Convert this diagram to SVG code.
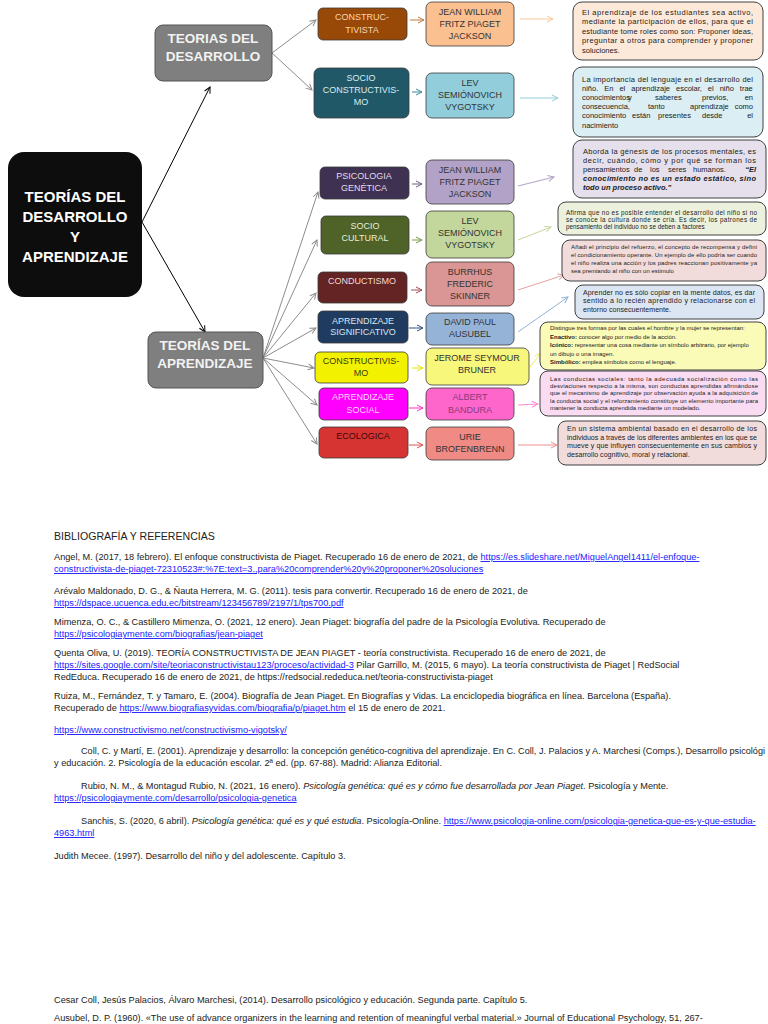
<svg xmlns="http://www.w3.org/2000/svg" width="768" height="1024" viewBox="0 0 768 1024">
<style>
text{font-family:"Liberation Sans",Arial,sans-serif}
.t15{font-size:15px;font-weight:bold;fill:#fff;text-anchor:middle}
.t13{font-size:13.5px;font-weight:bold;fill:#f2f2f2;text-anchor:middle}
.n9{font-size:9px;text-anchor:middle}
.nd{stroke:#3a3a3a;stroke-width:0.8}
.bx{stroke:#404040;stroke-width:1}
.r75{font-size:7.5px;fill:#222}
.r7{font-size:7.1px;fill:#222}
.r65{font-size:6.3px;fill:#222}
.r6{font-size:6px;fill:#222}
.bi{font-weight:bold;font-style:italic}
.b{font-weight:bold}
.bib{font-size:9.2px;fill:#222}
.lk{fill:#1a1aff;text-decoration:underline}
.ln{fill:none;stroke-width:1}
.e{text-anchor:end}
</style>
<defs>
<marker id="mBk" markerUnits="userSpaceOnUse" markerWidth="8" markerHeight="8" refX="7" refY="4" orient="auto"><path d="M1,1 L7,4 L1,7" fill="none" stroke="#000" stroke-width="1"/></marker>
<marker id="mGy" markerUnits="userSpaceOnUse" markerWidth="8" markerHeight="8" refX="7" refY="4" orient="auto"><path d="M1,1 L7,4 L1,7" fill="none" stroke="#8c8c8c" stroke-width="1"/></marker>
<marker id="m1" markerUnits="userSpaceOnUse" markerWidth="8" markerHeight="8" refX="7" refY="4" orient="auto"><path d="M1,1 L7,4 L1,7" fill="none" stroke="#c07a40" stroke-width="1"/></marker>
<marker id="m2" markerUnits="userSpaceOnUse" markerWidth="8" markerHeight="8" refX="7" refY="4" orient="auto"><path d="M1,1 L7,4 L1,7" fill="none" stroke="#3e8a9a" stroke-width="1"/></marker>
<marker id="m3" markerUnits="userSpaceOnUse" markerWidth="8" markerHeight="8" refX="7" refY="4" orient="auto"><path d="M1,1 L7,4 L1,7" fill="none" stroke="#6e6088" stroke-width="1"/></marker>
<marker id="m4" markerUnits="userSpaceOnUse" markerWidth="8" markerHeight="8" refX="7" refY="4" orient="auto"><path d="M1,1 L7,4 L1,7" fill="none" stroke="#7d9a48" stroke-width="1"/></marker>
<marker id="m5" markerUnits="userSpaceOnUse" markerWidth="8" markerHeight="8" refX="7" refY="4" orient="auto"><path d="M1,1 L7,4 L1,7" fill="none" stroke="#a05050" stroke-width="1"/></marker>
<marker id="m6" markerUnits="userSpaceOnUse" markerWidth="8" markerHeight="8" refX="7" refY="4" orient="auto"><path d="M1,1 L7,4 L1,7" fill="none" stroke="#2e5080" stroke-width="1"/></marker>
<marker id="m7" markerUnits="userSpaceOnUse" markerWidth="8" markerHeight="8" refX="7" refY="4" orient="auto"><path d="M1,1 L7,4 L1,7" fill="none" stroke="#e6e600" stroke-width="1"/></marker>
<marker id="m8" markerUnits="userSpaceOnUse" markerWidth="8" markerHeight="8" refX="7" refY="4" orient="auto"><path d="M1,1 L7,4 L1,7" fill="none" stroke="#ff33cc" stroke-width="1"/></marker>
<marker id="m9" markerUnits="userSpaceOnUse" markerWidth="8" markerHeight="8" refX="7" refY="4" orient="auto"><path d="M1,1 L7,4 L1,7" fill="none" stroke="#e05050" stroke-width="1"/></marker>
<marker id="p1" markerUnits="userSpaceOnUse" markerWidth="8" markerHeight="8" refX="7" refY="4" orient="auto"><path d="M1,1 L7,4 L1,7" fill="none" stroke="#f9c89a" stroke-width="1"/></marker>
<marker id="p2" markerUnits="userSpaceOnUse" markerWidth="8" markerHeight="8" refX="7" refY="4" orient="auto"><path d="M1,1 L7,4 L1,7" fill="none" stroke="#92cddc" stroke-width="1"/></marker>
<marker id="p3" markerUnits="userSpaceOnUse" markerWidth="8" markerHeight="8" refX="7" refY="4" orient="auto"><path d="M1,1 L7,4 L1,7" fill="none" stroke="#b2a2c7" stroke-width="1"/></marker>
<marker id="p4" markerUnits="userSpaceOnUse" markerWidth="8" markerHeight="8" refX="7" refY="4" orient="auto"><path d="M1,1 L7,4 L1,7" fill="none" stroke="#c3d69b" stroke-width="1"/></marker>
<marker id="p5" markerUnits="userSpaceOnUse" markerWidth="8" markerHeight="8" refX="7" refY="4" orient="auto"><path d="M1,1 L7,4 L1,7" fill="none" stroke="#e6a0a0" stroke-width="1"/></marker>
<marker id="p6" markerUnits="userSpaceOnUse" markerWidth="8" markerHeight="8" refX="7" refY="4" orient="auto"><path d="M1,1 L7,4 L1,7" fill="none" stroke="#95b3d7" stroke-width="1"/></marker>
<marker id="p7" markerUnits="userSpaceOnUse" markerWidth="8" markerHeight="8" refX="7" refY="4" orient="auto"><path d="M1,1 L7,4 L1,7" fill="none" stroke="#eeee50" stroke-width="1"/></marker>
<marker id="p8" markerUnits="userSpaceOnUse" markerWidth="8" markerHeight="8" refX="7" refY="4" orient="auto"><path d="M1,1 L7,4 L1,7" fill="none" stroke="#ff88cc" stroke-width="1"/></marker>
<marker id="p9" markerUnits="userSpaceOnUse" markerWidth="8" markerHeight="8" refX="7" refY="4" orient="auto"><path d="M1,1 L7,4 L1,7" fill="none" stroke="#f09090" stroke-width="1"/></marker>
</defs>
<rect width="768" height="1024" fill="#fff"/>

<g id="connectors">
<line class="ln" stroke="#000" x1="142" y1="222" x2="210" y2="87" marker-end="url(#mBk)"/>
<line class="ln" stroke="#000" x1="142" y1="222" x2="205" y2="332" marker-end="url(#mBk)"/>
<line class="ln" stroke="#8c8c8c" x1="272" y1="53" x2="316" y2="20" marker-end="url(#mGy)"/>
<line class="ln" stroke="#8c8c8c" x1="272" y1="53" x2="312" y2="90" marker-end="url(#mGy)"/>
<line class="ln" stroke="#8c8c8c" x1="263" y1="358" x2="318" y2="192" marker-end="url(#mGy)"/>
<line class="ln" stroke="#8c8c8c" x1="263" y1="358" x2="317" y2="240" marker-end="url(#mGy)"/>
<line class="ln" stroke="#8c8c8c" x1="263" y1="358" x2="316" y2="293" marker-end="url(#mGy)"/>
<line class="ln" stroke="#8c8c8c" x1="263" y1="358" x2="316" y2="328" marker-end="url(#mGy)"/>
<line class="ln" stroke="#8c8c8c" x1="263" y1="358" x2="314" y2="368" marker-end="url(#mGy)"/>
<line class="ln" stroke="#8c8c8c" x1="263" y1="358" x2="317" y2="405" marker-end="url(#mGy)"/>
<line class="ln" stroke="#8c8c8c" x1="263" y1="358" x2="317" y2="444" marker-end="url(#mGy)"/>
<line class="ln" stroke="#c07a40" x1="410" y1="20" x2="424" y2="20" marker-end="url(#m1)"/>
<line class="ln" stroke="#3e8a9a" x1="412" y1="92" x2="422" y2="92" marker-end="url(#m2)"/>
<line class="ln" stroke="#6e6088" x1="412" y1="184" x2="422" y2="184" marker-end="url(#m3)"/>
<line class="ln" stroke="#7d9a48" x1="412" y1="240" x2="422" y2="240" marker-end="url(#m4)"/>
<line class="ln" stroke="#a05050" x1="411" y1="290" x2="422" y2="290" marker-end="url(#m5)"/>
<line class="ln" stroke="#2e5080" x1="409" y1="328" x2="423" y2="328" marker-end="url(#m6)"/>
<line class="ln" stroke="#e6e600" x1="412" y1="368" x2="423" y2="368" marker-end="url(#m7)"/>
<line class="ln" stroke="#ff33cc" x1="409" y1="408" x2="423" y2="408" marker-end="url(#m8)"/>
<line class="ln" stroke="#e05050" x1="409" y1="445" x2="423" y2="445" marker-end="url(#m9)"/>
<line class="ln" stroke="#f9c89a" x1="520" y1="19" x2="553" y2="19" marker-end="url(#p1)"/>
<line class="ln" stroke="#92cddc" x1="520" y1="98" x2="558" y2="98" marker-end="url(#p2)"/>
<line class="ln" stroke="#b2a2c7" x1="518" y1="186" x2="554" y2="177" marker-end="url(#p3)"/>
<line class="ln" stroke="#c3d69b" x1="518" y1="240" x2="551" y2="227" marker-end="url(#p4)"/>
<line class="ln" stroke="#e6a0a0" x1="518" y1="290" x2="564" y2="275" marker-end="url(#p5)"/>
<line class="ln" stroke="#95b3d7" x1="518" y1="332" x2="568" y2="297" marker-end="url(#p6)"/>
<line class="ln" stroke="#eeee50" x1="530" y1="367" x2="541" y2="353" marker-end="url(#p7)"/>
<line class="ln" stroke="#ff88cc" x1="518" y1="405" x2="538" y2="404" marker-end="url(#p8)"/>
<line class="ln" stroke="#f09090" x1="518" y1="445" x2="557" y2="445" marker-end="url(#p9)"/>
</g>

<g id="n-main"><rect x="8" y="152" width="134" height="145" rx="16" fill="#0d0d0d"/>
<text class="t15" x="75" y="202">TEORÍAS DEL</text><text class="t15" x="75" y="222">DESARROLLO</text><text class="t15" x="75" y="242">Y</text><text class="t15" x="75" y="262">APRENDIZAJE</text></g>
<g id="n-desarrollo"><rect x="155" y="25" width="117" height="56" rx="8" fill="#7f7f7f" stroke="#555" stroke-width="1"/>
<text class="t13" x="213" y="43">TEORIAS DEL</text><text class="t13" x="213" y="61">DESARROLLO</text></g>
<g id="n-aprendizaje"><rect x="148" y="332" width="115" height="56" rx="8" fill="#7f7f7f" stroke="#555" stroke-width="1"/>
<text class="t13" x="205" y="350">TEORÍAS DEL</text><text class="t13" x="205" y="368">APRENDIZAJE</text></g>

<g id="n-constructivista"><rect class="nd" x="318" y="8" width="89" height="32" rx="5" fill="#984807"/>
<text class="n9" fill="#f8d6b4" x="362" y="20">CONSTRUC-</text><text class="n9" fill="#f8d6b4" x="362" y="33">TIVISTA</text></g>
<g id="n-piaget1"><rect class="nd" x="426" y="2" width="88" height="44" rx="6" fill="#fac090"/>
<text class="n9" fill="#333" x="470" y="15">JEAN WILLIAM</text><text class="n9" fill="#333" x="470" y="27">FRITZ PIAGET</text><text class="n9" fill="#333" x="470" y="39">JACKSON</text></g>
<g id="n-socioconst"><rect class="nd" x="314" y="68" width="95" height="50" rx="6" fill="#215867"/>
<text class="n9" fill="#d6ecf2" x="361" y="81">SOCIO</text><text class="n9" fill="#d6ecf2" x="361" y="93">CONSTRUCTIVIS-</text><text class="n9" fill="#d6ecf2" x="361" y="105">MO</text></g>
<g id="n-vygotsky1"><rect class="nd" x="426" y="73" width="88" height="45" rx="6" fill="#92cddc"/>
<text class="n9" fill="#333" x="470" y="86">LEV</text><text class="n9" fill="#333" x="470" y="98">SEMIÓNOVICH</text><text class="n9" fill="#333" x="470" y="110">VYGOTSKY</text></g>
<g id="n-psicogen"><rect class="nd" x="320" y="167" width="89" height="32" rx="5" fill="#3f3151"/>
<text class="n9" fill="#e2dbea" x="364" y="179">PSICOLOGIA</text><text class="n9" fill="#e2dbea" x="364" y="191">GENÉTICA</text></g>
<g id="n-piaget2"><rect class="nd" x="426" y="160" width="88" height="44" rx="6" fill="#b2a2c7"/>
<text class="n9" fill="#333" x="470" y="173">JEAN WILLIAM</text><text class="n9" fill="#333" x="470" y="185">FRITZ PIAGET</text><text class="n9" fill="#333" x="470" y="197">JACKSON</text></g>
<g id="n-sociocult"><rect class="nd" x="321" y="216" width="88" height="38" rx="5" fill="#4f6228"/>
<text class="n9" fill="#e6eed6" x="365" y="229">SOCIO</text><text class="n9" fill="#e6eed6" x="365" y="241">CULTURAL</text></g>
<g id="n-vygotsky2"><rect class="nd" x="426" y="211" width="88" height="47" rx="6" fill="#c3d69b"/>
<text class="n9" fill="#333" x="470" y="224">LEV</text><text class="n9" fill="#333" x="470" y="236">SEMIÓNOVICH</text><text class="n9" fill="#333" x="470" y="248">VYGOTSKY</text></g>
<g id="n-conductismo"><rect class="nd" x="318" y="272" width="89" height="31" rx="5" fill="#632423"/>
<text class="n9" fill="#f2dcdb" x="362" y="284">CONDUCTISMO</text></g>
<g id="n-skinner"><rect class="nd" x="426" y="262" width="88" height="44" rx="6" fill="#d99694"/>
<text class="n9" fill="#333" x="470" y="275">BURRHUS</text><text class="n9" fill="#333" x="470" y="287">FREDERIC</text><text class="n9" fill="#333" x="470" y="299">SKINNER</text></g>
<g id="n-aprsig"><rect class="nd" x="318" y="311" width="90" height="32" rx="5" fill="#1f3b5f"/>
<text class="n9" fill="#dbe5f1" x="363" y="324">APRENDIZAJE</text><text class="n9" fill="#dbe5f1" x="363" y="335">SIGNIFICATIVO</text></g>
<g id="n-ausubel"><rect class="nd" x="426" y="313" width="88" height="32" rx="6" fill="#95b3d7"/>
<text class="n9" fill="#333" x="470" y="325">DAVID PAUL</text><text class="n9" fill="#333" x="470" y="337">AUSUBEL</text></g>
<g id="n-constructivismo"><rect class="nd" x="315" y="352" width="93" height="31" rx="5" fill="#f2f200"/>
<text class="n9" fill="#3a3a10" x="361" y="364">CONSTRUCTIVIS-</text><text class="n9" fill="#3a3a10" x="361" y="376">MO</text></g>
<g id="n-bruner"><rect class="nd" x="426" y="348" width="103" height="37" rx="6" fill="#f7f77c"/>
<text class="n9" fill="#333" x="477" y="361">JEROME SEYMOUR</text><text class="n9" fill="#333" x="477" y="373">BRUNER</text></g>
<g id="n-aprsocial"><rect class="nd" x="319" y="388" width="89" height="32" rx="5" fill="#ff00ff"/>
<text class="n9" fill="#ffd8ff" x="363" y="400">APRENDIZAJE</text><text class="n9" fill="#ffd8ff" x="363" y="413">SOCIAL</text></g>
<g id="n-bandura"><rect class="nd" x="426" y="388" width="88" height="32" rx="6" fill="#ff66cc"/>
<text class="n9" fill="#8a3a7a" x="470" y="400">ALBERT</text><text class="n9" fill="#8a3a7a" x="470" y="413">BANDURA</text></g>
<g id="n-ecologica"><rect class="nd" x="319" y="427" width="89" height="31" rx="5" fill="#d63333"/>
<text class="n9" fill="#3a0a0a" x="363" y="439">ECOLOGICA</text></g>
<g id="n-bronfen"><rect class="nd" x="426" y="427" width="88" height="33" rx="6" fill="#f08a84"/>
<text class="n9" fill="#333" x="470" y="440">URIE</text><text class="n9" fill="#333" x="470" y="452">BROFENBRENN</text></g>

<g id="d-constructivista"><rect class="bx" x="573" y="2" width="190" height="58" rx="9" fill="#fde9d9"/>
<text class="r75" x="582" y="14.5" textLength="171" lengthAdjust="spacing">El aprendizaje de los estudiantes sea activo,</text>
<text class="r75" x="582" y="24" textLength="171" lengthAdjust="spacing">mediante la participación de ellos, para que el</text>
<text class="r75" x="582" y="33.5" textLength="171" lengthAdjust="spacing">estudiante tome roles como son: Proponer ideas,</text>
<text class="r75" x="582" y="43" textLength="171" lengthAdjust="spacing">preguntar a otros para comprender y proponer</text>
<text class="r75" x="582" y="52.5">soluciones.</text></g>
<g id="d-socioconst"><rect class="bx" x="573" y="67" width="190" height="70" rx="9" fill="#dbeef3"/>
<text class="r75" x="582" y="81.5" textLength="171" lengthAdjust="spacing">La importancia del lenguaje en el desarrollo del</text>
<text class="r75" x="582" y="90.7" word-spacing="3.9">niño. En el aprendizaje escolar, el niño trae</text>
<text class="r75" y="99.9"><tspan x="582">conocimientos</tspan><tspan x="628">y</tspan><tspan x="655">saberes</tspan><tspan x="702">previos,</tspan></text><text class="r75 e" x="753" y="99.9">en</text>
<text class="r75" y="109.1"><tspan x="582">consecuencia,</tspan><tspan x="648">tanto</tspan><tspan x="690">aprendizaje</tspan></text><text class="r75 e" x="753" y="109.1">como</text>
<text class="r75" y="118.3"><tspan x="582">conocimiento</tspan><tspan x="632">están</tspan><tspan x="658">presentes</tspan><tspan x="702">desde</tspan></text><text class="r75 e" x="753" y="118.3">el</text>
<text class="r75" x="582" y="127.5">nacimiento</text></g>
<g id="d-psicogen"><rect class="bx" x="573" y="140" width="193" height="58" rx="9" fill="#e5e0ec"/>
<text class="r75" x="583" y="153.5" textLength="173" lengthAdjust="spacing">Aborda la génesis de los procesos mentales, es</text>
<text class="r75" x="583" y="162.5" textLength="173" lengthAdjust="spacing">decir, cuándo, cómo y por qué se forman los</text>
<text class="r75" y="172"><tspan x="583">pensamientos</tspan><tspan x="634">de</tspan><tspan x="650">los</tspan><tspan x="668">seres</tspan><tspan x="693">humanos.</tspan></text>
<text class="r75 bi e" x="756" y="172">“El</text>
<text class="r75 bi" x="583" y="181" textLength="173" lengthAdjust="spacing">conocimiento no es un estado estático, sino</text>
<text class="r75 bi" x="583" y="190">todo un proceso activo.”</text></g>
<g id="d-sociocult"><rect class="bx" x="558" y="202" width="208" height="33" rx="8" fill="#ebf1dd"/>
<text class="r65" x="566" y="214.5" textLength="191" lengthAdjust="spacing">Afirma que no es posible entender el desarrollo del niño si no</text>
<text class="r65" x="566" y="221.5" textLength="191" lengthAdjust="spacing">se conoce la cultura donde se cría. Es decir, los patrones de</text>
<text class="r65" x="566" y="228.5">pensamiento del individuo no se deben a factores</text></g>
<g id="d-conductismo"><rect class="bx" x="562" y="240" width="204" height="41" rx="8" fill="#f2dcdb"/>
<text class="r6" x="571" y="248.5" textLength="186" lengthAdjust="spacing">Añadi el principio del refuerzo, el concepto de recompensa y defini</text>
<text class="r6" x="571" y="256.5" textLength="186" lengthAdjust="spacing">el condicionamiento operante. Un ejemplo de ello podría ser cuando</text>
<text class="r6" x="571" y="264.5" textLength="186" lengthAdjust="spacing">el niño realiza una acción y los padres reaccionan positivamente ya</text>
<text class="r6" x="571" y="272.5">sea premiando al niño con un estimulo</text></g>
<g id="d-aprsig"><rect class="bx" x="575" y="285" width="189" height="34" rx="8" fill="#dce6f2"/>
<text class="r7" x="583" y="294.5" textLength="172" lengthAdjust="spacing">Aprender no es sólo copiar en la mente datos, es dar</text>
<text class="r7" x="583" y="303" textLength="172" lengthAdjust="spacing">sentido a lo recién aprendido y relacionarse con el</text>
<text class="r7" x="583" y="311.5">entorno consecuentemente.</text></g>
<g id="d-bruner"><rect class="bx" x="540" y="322" width="226" height="48" rx="8" fill="#fbfbb8"/>
<text class="r6" x="550" y="330">Distingue tres formas por las cuales el hombre y la mujer se representan:</text>
<text class="r6" x="550" y="338.5"><tspan class="b">Enactivo:</tspan> conocer algo por medio de la acción.</text>
<text class="r6" x="550" y="347"><tspan class="b">Icónico:</tspan> representar una cosa mediante un símbolo arbitrario, por ejemplo</text>
<text class="r6" x="550" y="355.5">un dibujo o una imagen.</text>
<text class="r6" x="550" y="364"><tspan class="b">Simbólico:</tspan> emplea símbolos como el lenguaje.</text></g>
<g id="d-bandura"><rect class="bx" x="540" y="371" width="226" height="45" rx="8" fill="#fadcf2"/>
<text class="r6" fill="#7a5a7a" x="550" y="381" textLength="208" lengthAdjust="spacing">Las conductas sociales: tanto la adecuada socialización como las</text>
<text class="r6" fill="#7a5a7a" x="550" y="388.2" textLength="208" lengthAdjust="spacing">desviaciones respecto a la misma, son conductas aprendidas afirmándose</text>
<text class="r6" fill="#7a5a7a" x="550" y="395.4" textLength="208" lengthAdjust="spacing">que el mecanismo de aprendizaje por observación ayuda a la adquisición de</text>
<text class="r6" fill="#7a5a7a" x="550" y="402.6" textLength="208" lengthAdjust="spacing">la conducta social y el reforzamiento constituye un elemento importante para</text>
<text class="r6" fill="#7a5a7a" x="550" y="409.8">mantener la conducta aprendida mediante un modelado.</text></g>
<g id="d-ecologica"><rect class="bx" x="558" y="421" width="208" height="44" rx="8" fill="#f2dcdb"/>
<text class="r7" x="567" y="431" textLength="190" lengthAdjust="spacing">En un sistema ambiental basado en el desarrollo de los</text>
<text class="r7" x="567" y="439.5" textLength="190" lengthAdjust="spacing">individuos a través de los diferentes ambientes en los que se</text>
<text class="r7" x="567" y="448" textLength="190" lengthAdjust="spacing">mueve y que influyen consecuentemente en sus cambios y</text>
<text class="r7" x="567" y="456.5">desarrollo cognitivo, moral y relacional.</text></g>

<g id="bibliografia">
<text x="54" y="540" font-size="10.6" fill="#222">BIBLIOGRAFÍA Y REFERENCIAS</text>
<text class="bib" x="54" y="560">Angel, M. (2017, 18 febrero). El enfoque constructivista de Piaget. Recuperado 16 de enero de 2021, de <tspan class="lk">https://es.slideshare.net/MiguelAngel1411/el-enfoque-</tspan></text>
<text class="bib" x="54" y="572"><tspan class="lk">constructivista-de-piaget-72310523#:%7E:text=3.,para%20comprender%20y%20proponer%20soluciones</tspan></text>
<text class="bib" x="54" y="594">Arévalo Maldonado, D. G., &amp; Ñauta Herrera, M. G. (2011). tesis para convertir. Recuperado 16 de enero de 2021, de</text>
<text class="bib" x="54" y="606"><tspan class="lk">https://dspace.ucuenca.edu.ec/bitstream/123456789/2197/1/tps700.pdf</tspan></text>
<text class="bib" x="54" y="625">Mimenza, O. C., &amp; Castillero Mimenza, O. (2021, 12 enero). Jean Piaget: biografía del padre de la Psicología Evolutiva. Recuperado de</text>
<text class="bib" x="54" y="637"><tspan class="lk">https://psicologiaymente.com/biografias/jean-piaget</tspan></text>
<text class="bib" x="54" y="656">Quenta Oliva, U. (2019). TEORÍA CONSTRUCTIVISTA DE JEAN PIAGET - teoría constructivista. Recuperado 16 de enero de 2021, de</text>
<text class="bib" x="54" y="668"><tspan class="lk">https://sites.google.com/site/teoriaconstructivistau123/proceso/actividad-3</tspan> Pilar Garrillo, M. (2015, 6 mayo). La teoría constructivista de Piaget | RedSocial</text>
<text class="bib" x="54" y="680">RedEduca. Recuperado 16 de enero de 2021, de https://redsocial.rededuca.net/teoria-constructivista-piaget</text>
<text class="bib" x="54" y="699">Ruiza, M., Fernández, T. y Tamaro, E. (2004). Biografía de Jean Piaget. En Biografías y Vidas. La enciclopedia biográfica en línea. Barcelona (España).</text>
<text class="bib" x="54" y="711">Recuperado de <tspan class="lk">https://www.biografiasyvidas.com/biografia/p/piaget.htm</tspan> el 15 de enero de 2021.</text>
<text class="bib" x="54" y="733"><tspan class="lk">https://www.constructivismo.net/constructivismo-vigotsky/</tspan></text>
<text class="bib" x="81" y="754" textLength="684" lengthAdjust="spacingAndGlyphs">Coll, C. y Martí, E. (2001). Aprendizaje y desarrollo: la concepción genético-cognitiva del aprendizaje. En C. Coll, J. Palacios y A. Marchesi (Comps.), Desarrollo psicológi</text>
<text class="bib" x="54" y="766">y educación. 2. Psicología de la educación escolar. 2ª ed. (pp. 67-88). Madrid: Alianza Editorial.</text>
<text class="bib" x="81" y="789">Rubio, N. M., &amp; Montagud Rubio, N. (2021, 16 enero). <tspan font-style="italic">Psicología genética: qué es y cómo fue desarrollada por Jean Piaget</tspan>. Psicología y Mente.</text>
<text class="bib" x="54" y="801"><tspan class="lk">https://psicologiaymente.com/desarrollo/psicologia-genetica</tspan></text>
<text class="bib" x="81" y="824">Sanchis, S. (2020, 6 abril). <tspan font-style="italic">Psicología genética: qué es y qué estudia</tspan>. Psicología-Online. <tspan class="lk">https://www.psicologia-online.com/psicologia-genetica-que-es-y-que-estudia-</tspan></text>
<text class="bib" x="54" y="836"><tspan class="lk">4963.html</tspan></text>
<text class="bib" x="54" y="859">Judith Mecee. (1997). Desarrollo del niño y del adolescente. Capítulo 3.</text>
<text class="bib" x="54" y="1003">Cesar Coll, Jesús Palacios, Álvaro Marchesi, (2014). Desarrollo psicológico y educación. Segunda parte. Capítulo 5.</text>
<text class="bib" x="54" y="1021">Ausubel, D. P. (1960). «The use of advance organizers in the learning and retention of meaningful verbal material.» Journal of Educational Psychology, 51, 267-</text>
</g>
</svg>
